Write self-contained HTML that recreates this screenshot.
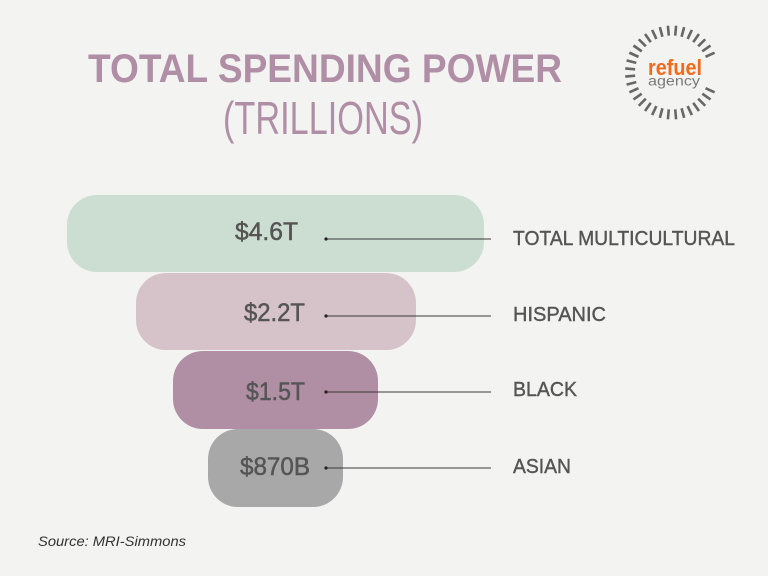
<!DOCTYPE html>
<html><head><meta charset="utf-8"><style>
html,body{margin:0;padding:0;width:768px;height:576px;overflow:hidden;background:#f3f3f1;}
svg{display:block;}
</style></head><body>
<svg width="768" height="576" viewBox="0 0 768 576" xmlns="http://www.w3.org/2000/svg">
<rect width="768" height="576" fill="#f3f3f1"/>
<!-- Title -->
<text x="88" y="82" font-family="Liberation Sans, sans-serif" font-weight="bold" font-size="40" fill="#b08fa6" textLength="474" lengthAdjust="spacingAndGlyphs">TOTAL SPENDING POWER</text>
<text x="223" y="134" font-family="Liberation Sans, sans-serif" font-size="46" fill="#b08fa6" textLength="200" lengthAdjust="spacingAndGlyphs" style="font-weight:300">(TRILLIONS)</text>

<!-- Logo -->
<g transform="translate(672,72.5)" stroke="#676767" stroke-width="2.6">
<line x1="0" y1="-37" x2="0" y2="-47" transform="rotate(-65)"/>
<line x1="0" y1="-37" x2="0" y2="-47" transform="rotate(-55)"/>
<line x1="0" y1="-37" x2="0" y2="-47" transform="rotate(-45)"/>
<line x1="0" y1="-37" x2="0" y2="-47" transform="rotate(-35)"/>
<line x1="0" y1="-37" x2="0" y2="-47" transform="rotate(-25)"/>
<line x1="0" y1="-37" x2="0" y2="-47" transform="rotate(-15)"/>
<line x1="0" y1="-37" x2="0" y2="-47" transform="rotate(-5)"/>
<line x1="0" y1="-37" x2="0" y2="-47" transform="rotate(5)"/>
<line x1="0" y1="-37" x2="0" y2="-47" transform="rotate(15)"/>
<line x1="0" y1="-37" x2="0" y2="-47" transform="rotate(25)"/>
<line x1="0" y1="-37" x2="0" y2="-47" transform="rotate(35)"/>
<line x1="0" y1="-37" x2="0" y2="-47" transform="rotate(45)"/>
<line x1="0" y1="-37" x2="0" y2="-47" transform="rotate(55)"/>
<line x1="0" y1="-37" x2="0" y2="-47" transform="rotate(65)"/>
<line x1="0" y1="-37" x2="0" y2="-47" transform="rotate(115)"/>
<line x1="0" y1="-37" x2="0" y2="-47" transform="rotate(125)"/>
<line x1="0" y1="-37" x2="0" y2="-47" transform="rotate(135)"/>
<line x1="0" y1="-37" x2="0" y2="-47" transform="rotate(145)"/>
<line x1="0" y1="-37" x2="0" y2="-47" transform="rotate(155)"/>
<line x1="0" y1="-37" x2="0" y2="-47" transform="rotate(165)"/>
<line x1="0" y1="-37" x2="0" y2="-47" transform="rotate(175)"/>
<line x1="0" y1="-37" x2="0" y2="-47" transform="rotate(185)"/>
<line x1="0" y1="-37" x2="0" y2="-47" transform="rotate(195)"/>
<line x1="0" y1="-37" x2="0" y2="-47" transform="rotate(205)"/>
<line x1="0" y1="-37" x2="0" y2="-47" transform="rotate(215)"/>
<line x1="0" y1="-37" x2="0" y2="-47" transform="rotate(225)"/>
<line x1="0" y1="-37" x2="0" y2="-47" transform="rotate(235)"/>
<line x1="0" y1="-37" x2="0" y2="-47" transform="rotate(245)"/>
<line x1="0" y1="-37" x2="0" y2="-47" transform="rotate(255)"/>
<line x1="0" y1="-37" x2="0" y2="-47" transform="rotate(265)"/>
<line x1="0" y1="-37" x2="0" y2="-47" transform="rotate(275)"/>
<line x1="0" y1="-37" x2="0" y2="-47" transform="rotate(285)"/>
<line x1="0" y1="-37" x2="0" y2="-47" transform="rotate(295)"/>
<line x1="0" y1="-37" x2="0" y2="-47" transform="rotate(305)"/>
</g>
<text x="648" y="75" font-family="Liberation Sans, sans-serif" font-weight="bold" font-size="22" fill="#f26a1b" textLength="54" lengthAdjust="spacingAndGlyphs">refuel</text>
<text x="648" y="85.5" font-family="Liberation Sans, sans-serif" font-size="13.5" fill="#7a7a7a" textLength="52" lengthAdjust="spacingAndGlyphs">agency</text>

<!-- Bars -->
<rect x="67" y="195" width="417" height="77" rx="30" ry="30" fill="#ccddd2"/>
<rect x="136" y="273" width="280" height="77" rx="30" ry="30" fill="#d6c3ca"/>
<rect x="173" y="351" width="205" height="78" rx="30" ry="30" fill="#b08ea3"/>
<rect x="208" y="429" width="135" height="78" rx="30" ry="30" fill="#a8a8a8"/>

<!-- Values -->
<g font-family="Liberation Sans, sans-serif" font-size="25" fill="#555555" stroke="#555555" stroke-width="0.5">
<text x="235" y="240" textLength="63" lengthAdjust="spacingAndGlyphs">$4.6T</text>
<text x="244" y="321" textLength="61" lengthAdjust="spacingAndGlyphs">$2.2T</text>
<text x="246" y="400" textLength="59" lengthAdjust="spacingAndGlyphs">$1.5T</text>
<text x="240" y="475" textLength="70" lengthAdjust="spacingAndGlyphs">$870B</text>
</g>

<!-- Leader lines -->
<g stroke="#3a3a3a" stroke-width="1.1">
<line x1="326" y1="239" x2="491" y2="239"/>
<line x1="326" y1="316" x2="491" y2="316"/>
<line x1="326" y1="392" x2="491" y2="392"/>
<line x1="326" y1="468" x2="491" y2="468"/>
</g>
<g fill="#222">
<circle cx="326" cy="239" r="1.6"/>
<circle cx="326" cy="316" r="1.6"/>
<circle cx="326" cy="392" r="1.6"/>
<circle cx="326" cy="468" r="1.6"/>
</g>

<!-- Labels -->
<g font-family="Liberation Sans, sans-serif" font-size="20" fill="#555555" stroke="#555555" stroke-width="0.4">
<text x="513" y="245" textLength="222" lengthAdjust="spacingAndGlyphs">TOTAL MULTICULTURAL</text>
<text x="513" y="321" textLength="93" lengthAdjust="spacingAndGlyphs">HISPANIC</text>
<text x="513" y="396" textLength="64" lengthAdjust="spacingAndGlyphs">BLACK</text>
<text x="513" y="473" textLength="58" lengthAdjust="spacingAndGlyphs">ASIAN</text>
</g>

<!-- Source -->
<text x="38" y="546" font-family="Liberation Sans, sans-serif" font-style="italic" font-size="14" fill="#333" textLength="148" lengthAdjust="spacingAndGlyphs">Source: MRI-Simmons</text>
</svg>
</body></html>
